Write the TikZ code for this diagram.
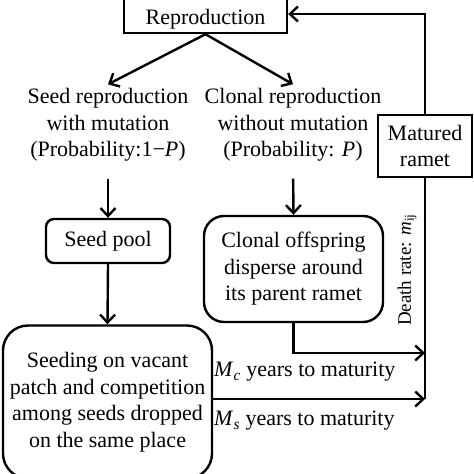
\documentclass[tikz,border=0pt]{standalone}
\usepackage{fontspec}
\usepackage{amstext}
\setmainfont{Liberation Serif}
\usetikzlibrary{arrows.meta}
\begin{document}
\begin{tikzpicture}[x=1pt,y=-1pt,
  line width=2.4pt,
  arr/.style={-{Straight Barb[length=8pt,width=15pt,line width=2.4pt]}},
  txt/.style={font=\fontsize{22}{26.5}\selectfont, align=center, inner sep=0pt},
  sqbox/.style={draw, txt},
  rbox/.style={draw, txt}
]
\useasboundingbox (0,0) rectangle (474,474);
\begin{scope}
\clip (0,0) rectangle (474,474);
\node[sqbox, inner sep=3pt, text height=26pt, text depth=6pt, minimum width=163pt, minimum height=38pt] (rep) at (205.5,14) {Reproduction};
\node[sqbox, minimum width=94pt, minimum height=62pt] (mat) at (425,146) {Matured\\ramet};
\node[txt] (seedrep) at (108,125) {Seed reproduction\\with mutation\\(Probability:1\textminus\textit{P})};
\node[txt] (clonrep) at (293,125) {Clonal reproduction\\without mutation\\(Probability: \textit{P})};
\node[rbox, rounded corners=8pt, minimum width=124pt, minimum height=44pt] (pool) at (108,241) {Seed pool};
\node[rbox, rounded corners=20pt, minimum width=179pt, minimum height=106pt] (clon) at (293.5,269) {Clonal offspring\\disperse around\\its parent ramet};
\node[rbox, rounded corners=25pt, minimum width=209pt, minimum height=153pt] (seeding) at (107.5,402) {Seeding on vacant\\patch and competition\\among seeds dropped\\on the same place};
\node[txt, anchor=west] (mc) at (213,372) {\textit{M}$_{\textit{c}}$ years to maturity};
\node[txt, anchor=west] (ms) at (213,421) {\textit{M}$_{\textit{s}}$ years to maturity};
\node[font=\fontsize{19}{22}\selectfont, inner sep=0pt, rotate=90] (death) at (407,270) {Death rate: \textit{m}$_{\text{ij}}$};
\coordinate (c1) at (425,353);
\coordinate (c2) at (425,399);
\draw[arr] (rep.south) -- ([yshift=3pt]seedrep.north);
\draw[arr] (rep.south) -- ([yshift=3pt]clonrep.north);
\draw[arr, shorten <=16pt] (seedrep.south) -- (pool.north);
\draw[arr, shorten <=16pt] (clonrep.south) -- (clon.north);
\draw[arr] (pool.south) -- (seeding.north);
\draw[arr] (mat.north) |- (rep.east);
\draw (mat.south) -- (c2);
\draw[arr] (clon.south) |- (c1);
\draw[arr] (seeding.east |- c2) -- (c2);
\end{scope}
\end{tikzpicture}
\end{document}
